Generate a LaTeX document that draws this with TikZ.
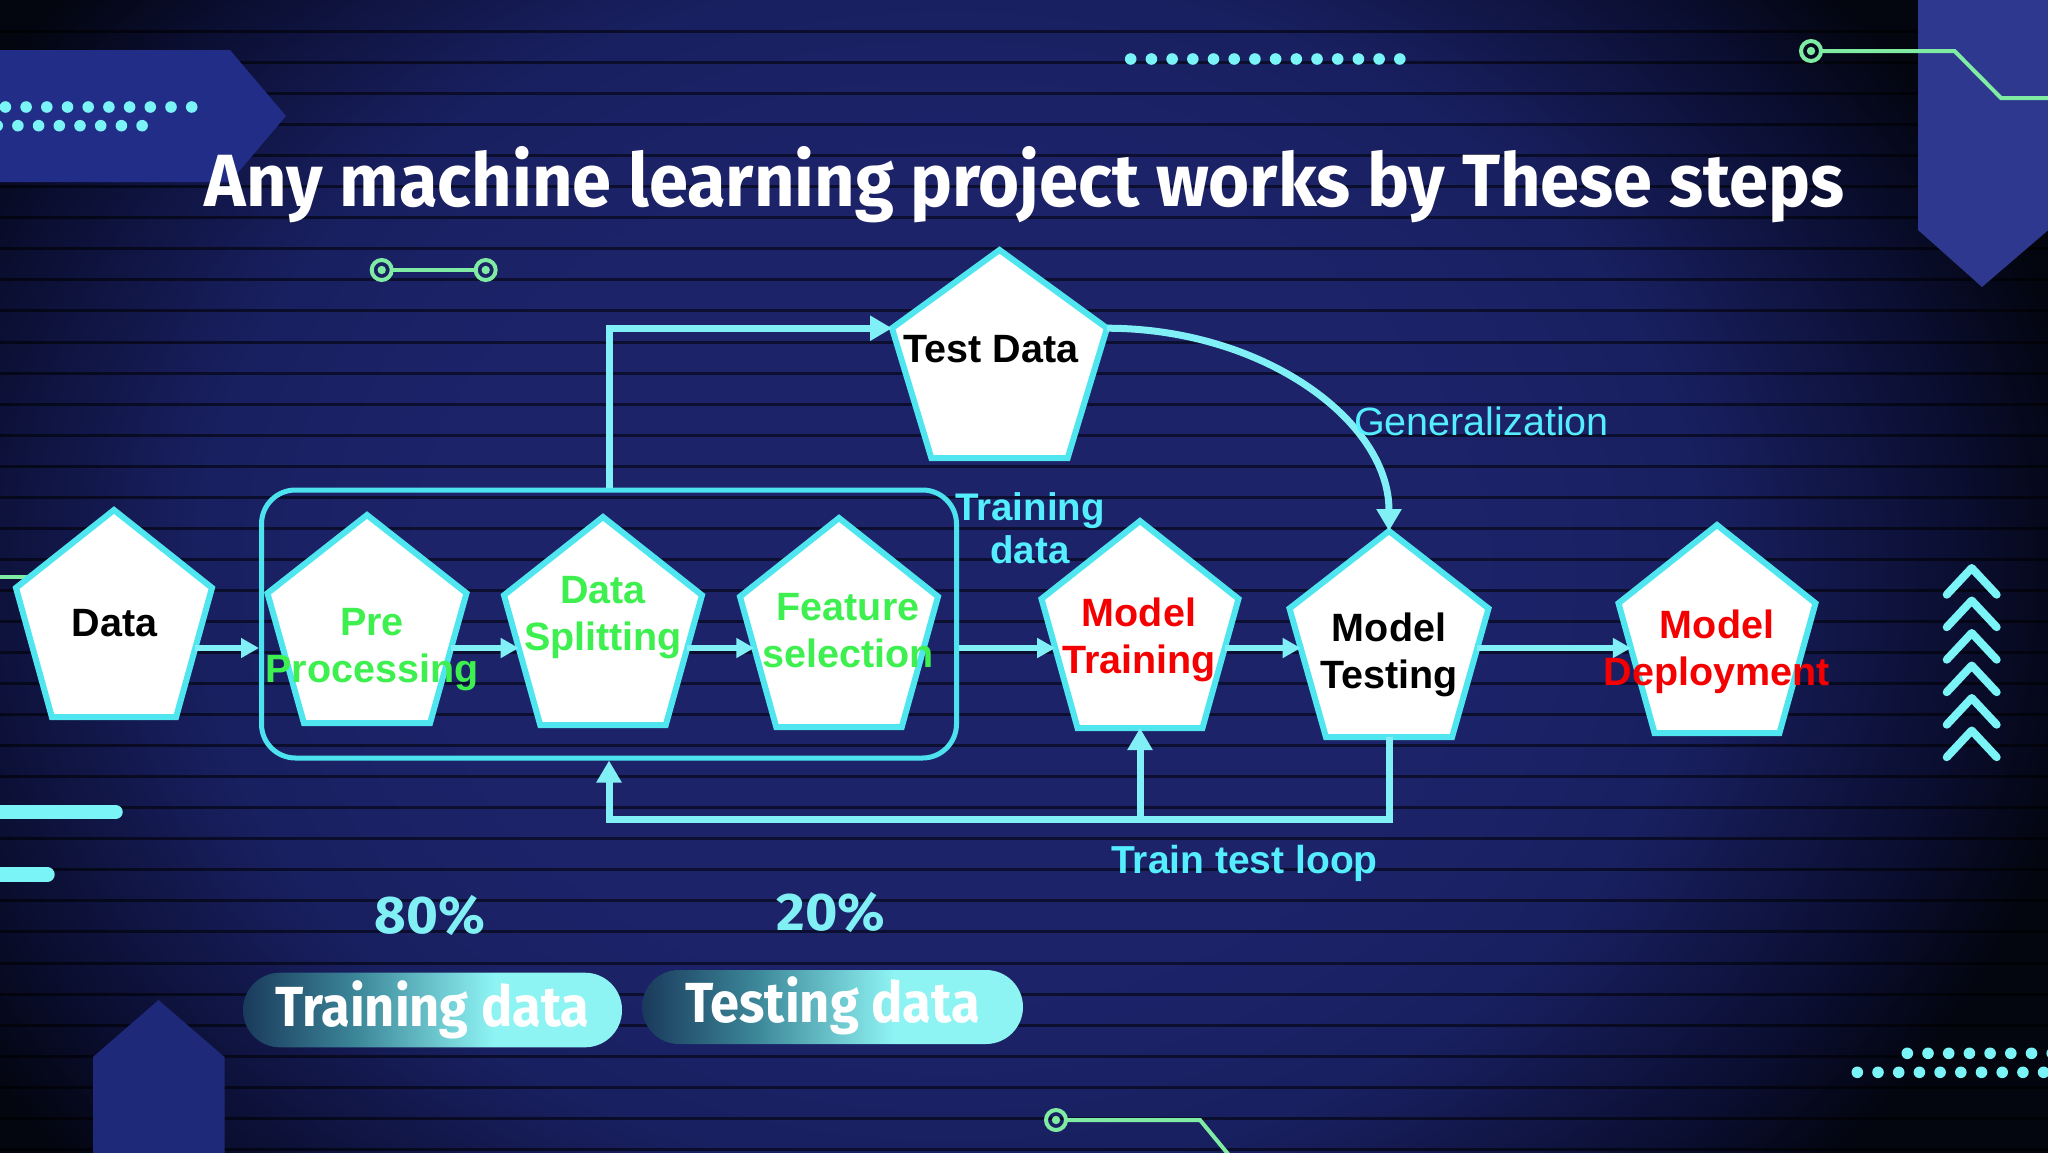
\documentclass[tikz,border=0pt]{standalone}
\usepackage{fontspec}
\setmainfont{Liberation Sans}
\newfontfamily\titlefont{Fira Sans}
\usetikzlibrary{calc,arrows.meta}
\definecolor{bgA}{HTML}{1C2369}
\definecolor{bgB}{HTML}{192061}
\definecolor{bgC}{HTML}{0B0F33}
\definecolor{bgD}{HTML}{03050F}
\definecolor{bannerc}{HTML}{222D88}
\definecolor{dotc}{HTML}{7AF4F7}
\definecolor{circc}{HTML}{80EBA2}
\definecolor{pentc}{HTML}{4FE6F0}
\definecolor{connc}{HTML}{80F0F6}
\definecolor{boxc}{HTML}{4DE3EE}
\definecolor{greent}{HTML}{3DF04F}
\definecolor{redt}{HTML}{F50000}
\definecolor{labelc}{HTML}{55EEFF}
\definecolor{pctc}{HTML}{80F0F4}
\definecolor{pillA}{HTML}{1A3A5C}
\definecolor{pillB}{HTML}{3C8799}
\definecolor{pillC}{HTML}{8EF3F3}
\pgfdeclareradialshading{bgshade}{\pgfpoint{0bp}{0bp}}{color(0bp)=(bgA); color(10bp)=(bgA); color(15bp)=(bgB); color(20bp)=(bgC); color(23bp)=(bgD); color(50bp)=(bgD)}
\pgfdeclarehorizontalshading{pillshade}{100bp}{color(0bp)=(pillA); color(25bp)=(pillA); color(40bp)=(pillB); color(58bp)=(pillC); color(100bp)=(pillC)}
\newcommand\pentagon[5]{%
  \node[pbox, minimum width=#4pt, minimum height=#5pt] (#1) at (#2,#3) {};
  \filldraw[pentline] (#1.north)
    -- ($(#1.north east)!0.376!(#1.south east)$) coordinate (#1-rs)
    -- ($(#1.south east)!0.183!(#1.south west)$)
    -- ($(#1.south west)!0.183!(#1.south east)$)
    -- ($(#1.north west)!0.376!(#1.south west)$) coordinate (#1-ls)
    -- cycle;
  \pgfmathsetmacro\pentF{(648-(#3-#5/2))/#5}
  \pgfmathsetmacro\pentIn{(\pentF-0.376)/0.624*0.183*#4}
  \coordinate (#1-L) at ({#2-#4/2+\pentIn},648);
  \coordinate (#1-R) at ({#2+#4/2-\pentIn},648);
}
\begin{document}
\begin{tikzpicture}[x=1pt,y=-1pt,
  pbox/.style={rectangle, inner sep=0pt, outer sep=0pt, draw=none},
  pentline/.style={fill=white, draw=pentc, line width=6pt, line join=miter},
  ptext/.style={anchor=base, align=center, inner sep=0pt, font=\fontsize{39.5}{47}\selectfont\bfseries},
  conn/.style={draw=connc, line width=6pt},
  loopconn/.style={draw=connc, line width=7pt},
  smallhead/.style={-{Triangle[length=18pt,width=19pt]}},
  bighead/.style={-{Triangle[length=22pt,width=24pt]}},
  stripe/.style={draw=black, opacity=0.55, line width=3pt},
  dotdeco/.style={fill=dotc},
  circline/.style={draw=circc, line width=4pt},
  pill/.style={shade, shading=pillshade, rounded corners=37pt, inner sep=0pt, text=white},
  grpbox/.style={draw=boxc, line width=5pt, rounded corners=34pt, inner sep=0pt}]
\useasboundingbox (0,0) rectangle (2048,1152);
% background
\begin{scope}
\clip (0,0) rectangle (2048,1152);
\fill[bgD] (0,0) rectangle (2048,1152);
\shade[shading=bgshade] (-300,-420) rectangle (2200,1572);
\foreach \k in {0,...,36} {\draw[stripe] (-5,{31.5+31.05*\k}) -- (2053,{31.5+31.05*\k});}
% banners
\fill[bannerc] (-5,50) -- (230,50) -- (286,116) -- (230,182) -- (-5,182) -- cycle;
\fill[bannerc!95!white] (1918,-5) -- (1918,230) -- (1982,287) -- (2053,226) -- (2053,-5) -- cycle;
\fill[bannerc!90!black] (93,1160) -- (93,1057) -- (158.5,1000) -- (224.5,1057) -- (224.5,1160) -- cycle;
% dots
\foreach \k in {0,...,9} {\fill[dotdeco] ({5.4+20.7*\k},107) circle[radius=5.8];}
\foreach \k in {0,...,7} {\fill[dotdeco] ({-2.8+20.7*\k},125.7) circle[radius=5.8];}
\foreach \k in {0,...,13} {\fill[dotdeco] ({1130.7+20.7*\k},59) circle[radius=5.8];}
\foreach \k in {0,...,7} {\fill[dotdeco] ({1907.3+20.7*\k},1053.3) circle[radius=5.8];}
\foreach \k in {0,...,9} {\fill[dotdeco] ({1857.3+20.7*\k},1072.3) circle[radius=5.8];}
% circuits
\draw[circline] (381.7,270) circle[radius=10];
\fill[circc] (381.7,270) circle[radius=4.2];
\draw[circline] (485.7,270) circle[radius=10];
\fill[circc] (485.7,270) circle[radius=4.2];
\draw[circline] (391.7,270) -- (475.7,270);
\draw[circline] (1811,51) circle[radius=10];
\fill[circc] (1811,51) circle[radius=4.2];
\draw[circline] (1821,51) -- (1954.5,51) -- (2001,98) -- (2060,98);
\draw[circline] (1056,1120) circle[radius=10];
\fill[circc] (1056,1120) circle[radius=4.2];
\draw[circline] (1066,1120) -- (1200,1120) -- (1233,1160);
\draw[circline] (-5,577) -- (40,577);
% cyan bars
\draw[draw=dotc, line width=14.3pt, line cap=round] (-20,812) -- (115.6,812);
\draw[draw=dotc, line width=14.6pt, line cap=round] (-20,874.5) -- (47.4,874.5);
% chevrons
\foreach \k in {0,...,5} {\draw[draw=dotc, line width=8pt, line cap=round, line join=round] (1946.7,{594.7+32.5*\k}) -- (1971.7,{568+32.5*\k}) -- (1996.7,{594.7+32.5*\k});}
\end{scope}
% title
\node[anchor=base, text=white, inner sep=0pt] (title) at (1024.5,206) {\resizebox{1639pt}{\height}{\titlefont\bfseries\fontsize{74}{80}\selectfont Any machine learning project works by These steps}};
% group box
\node[grpbox, minimum width=695pt, minimum height=268pt] (grp) at (609,624) {};
% pentagons
\pentagon{data}{114}{613.5}{196}{207}
\pentagon{pre}{367}{619}{199}{208}
\pentagon{split}{603}{621}{198}{208}
\pentagon{feat}{839}{622.5}{198}{209}
\pentagon{test}{999.5}{354}{215}{208}
\pentagon{train}{1140}{624.5}{197}{207}
\pentagon{mtest}{1389}{634}{199}{206}
\pentagon{deploy}{1717}{629}{197}{208}
% connectors
\draw[conn, smallhead] (data-R) -- (grp.west |- data-R);
\draw[conn, smallhead] (pre-R) -- (split-L);
\draw[conn, smallhead] (split-R) -- (feat-L);
\draw[conn, smallhead] (grp.east |- train-L) -- (train-L);
\draw[conn, smallhead] (train-R) -- (mtest-L);
\draw[conn, smallhead] (mtest-R) -- (deploy-L);
\draw[loopconn, bighead] (grp.north) -- (grp.north |- test-ls) -- (test-ls);
\draw[loopconn, bighead] (test-rs) .. controls ($(test-rs)+(155,0)$) and ($(mtest.north)+(0,-111)$) .. (mtest.north);
\draw[loopconn, bighead] (mtest.south) -- ++(0,82) coordinate (loopR) -| (grp.south);
\draw[loopconn, bighead] (train.south |- loopR) -- (train.south);
% pentagon texts (base = last line baseline)
\node[ptext, text=black] (data-t) at (114.8,636.7) {Data};
\node[ptext, text=greent] (pre-t) at (372,682) {Pre\\Processing};
\node[ptext, text=greent] (split-t) at (603,650.3) {Data\\Splitting};
\node[ptext, text=greent] (feat-t) at (848,667) {Feature\\selection};
\node[ptext, text=black] (test-t) at (991,362) {Test Data};
\node[ptext, text=redt] (train-t) at (1139,673.7) {Model\\Training};
\node[ptext, text=black] (mtest-t) at (1389,688.7) {Model\\Testing};
\node[ptext, text=redt] (deploy-t) at (1717,685) {Model\\Deployment};
% labels
\node[anchor=base, align=center, inner sep=0pt, text=labelc, font=\fontsize{38.5}{43.3}\selectfont\bfseries] (trlbl) at (1030,563.3) {Training\\data};
\node[anchor=base west, inner sep=0pt, text=labelc, font=\fontsize{39.5}{45}\selectfont] (genlbl) at (1354,435) {Generalization};
\node[anchor=base west, inner sep=0pt, text=labelc, font=\fontsize{39}{45}\selectfont\bfseries] (looplbl) at (1111,873) {Train test loop};
% percentages
\node[anchor=base, text=pctc, inner sep=0pt] (p80) at (430.2,933.3) {\resizebox{110.5pt}{\height}{\titlefont\bfseries\fontsize{53}{58}\selectfont 80\%}};
\node[anchor=base, text=pctc, inner sep=0pt] (p20) at (831,930.7) {\resizebox{108.7pt}{\height}{\titlefont\bfseries\fontsize{53}{58}\selectfont 20\%}};
% pills
\node[pill, minimum width=379pt, minimum height=74.6pt, text height=40pt, text depth=6.6pt] (trpill) at (432.5,1010) {\resizebox{314pt}{\height}{\titlefont\bfseries\fontsize{56.5}{60}\selectfont Training data}};
\node[pill, minimum width=381pt, minimum height=74pt, text height=40pt, text depth=8.6pt] (tspill) at (832.5,1007) {\resizebox{294.7pt}{\height}{\titlefont\bfseries\fontsize{56.5}{60}\selectfont Testing data}};
\end{tikzpicture}
\end{document}
